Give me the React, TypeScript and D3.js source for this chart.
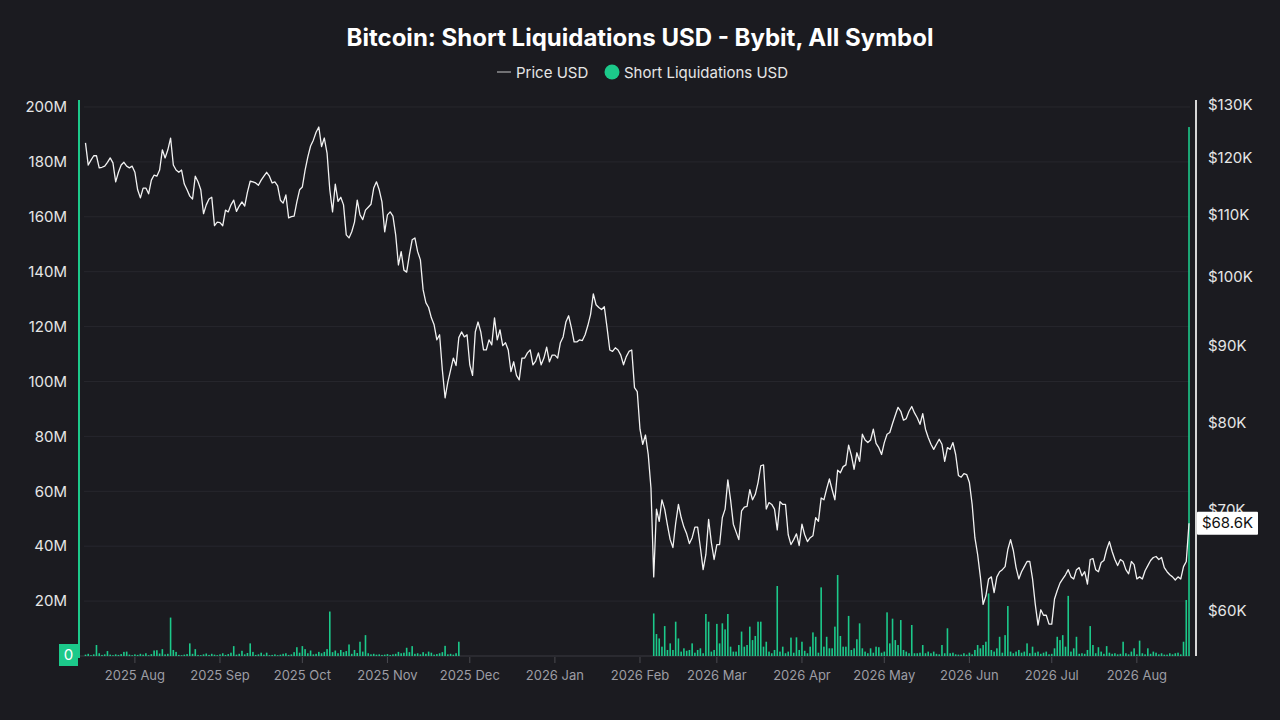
import * as d3 from "d3";

// daily closes in $K, from 2025-07-14
const PRICE_K = [
  122.7, 118.6, 119.5, 120.3, 120.3, 118.1, 118.2, 118.4, 119.1, 119.9,
  119.0, 115.6, 117.3, 118.6, 119.1, 118.4, 118.1, 118.4, 117.3, 114.2,
  112.8, 114.5, 114.5, 113.5, 115.9, 116.8, 116.6, 117.7, 121.4, 119.9,
  121.4, 123.6, 118.6, 117.7, 117.3, 117.7, 115.2, 114.2, 113.1, 112.6,
  116.6, 115.6, 114.2, 110.1, 111.6, 112.6, 112.9, 108.1, 108.7, 108.6,
  108.1, 110.7, 110.4, 111.6, 112.4, 110.5, 111.4, 112.1, 111.4, 113.8,
  115.7, 115.6, 115.4, 115.0, 115.9, 116.6, 117.3, 116.6, 115.4, 115.6,
  114.9, 112.4, 111.9, 113.3, 109.4, 109.6, 109.7, 112.1, 114.2, 114.7,
  117.7, 120.1, 122.1, 123.2, 124.7, 125.7, 122.0, 123.6, 120.8, 114.2,
  110.4, 115.2, 112.2, 112.9, 111.6, 106.6, 106.1, 107.1, 108.7, 112.4,
  109.9, 109.1, 110.7, 111.2, 111.7, 114.5, 115.6, 114.2, 112.1, 107.1,
  109.9, 110.4, 109.7, 106.6, 101.8, 103.9, 101.0, 100.7, 103.4, 105.8,
  106.1, 103.9, 102.6, 98.0, 96.1, 95.4, 93.9, 92.9, 90.8, 91.5,
  86.7, 83.1, 85.1, 86.7, 88.3, 87.3, 91.1, 91.9, 91.2, 91.5,
  87.4, 86.0, 91.9, 93.3, 91.9, 89.4, 89.4, 90.8, 90.1, 93.9,
  90.8, 92.2, 90.0, 90.4, 89.4, 86.5, 87.8, 86.0, 85.4, 88.3,
  88.3, 89.0, 89.4, 87.4, 87.9, 89.0, 87.4, 88.3, 89.8, 87.8,
  88.7, 88.7, 88.3, 90.4, 91.2, 93.3, 94.2, 92.5, 90.5, 90.5,
  90.8, 90.7, 91.5, 92.8, 94.4, 97.4, 95.8, 95.4, 95.1, 95.5,
  92.5, 89.4, 89.2, 89.7, 89.4, 88.7, 87.4, 88.5, 89.2, 89.4,
  84.4, 83.9, 79.2, 77.4, 78.5, 76.2, 72.4, 63.2, 70.1, 68.8,
  71.1, 70.1, 68.4, 66.9, 66.1, 68.6, 70.6, 69.2, 68.2, 67.5,
  66.5, 67.1, 68.2, 68.2, 66.1, 63.9, 65.4, 69.0, 66.6, 64.9,
  66.4, 66.4, 69.2, 70.1, 73.3, 71.1, 68.5, 67.7, 66.9, 69.9,
  70.3, 70.4, 72.2, 71.1, 71.7, 73.0, 74.9, 75.0, 70.1, 70.8,
  70.6, 70.1, 67.9, 70.9, 70.6, 70.6, 67.4, 66.4, 66.9, 67.5,
  66.3, 68.5, 67.4, 66.7, 67.1, 67.3, 69.2, 68.8, 71.3, 71.1,
  72.3, 73.4, 72.2, 71.1, 74.4, 74.1, 74.8, 75.0, 77.3, 76.1,
  74.5, 76.4, 75.4, 78.6, 77.9, 77.6, 77.9, 79.2, 77.5, 77.0,
  76.2, 77.6, 78.6, 78.8, 79.9, 80.9, 81.9, 81.4, 80.3, 80.5,
  81.4, 82.0, 81.2, 80.6, 79.8, 81.1, 79.2, 78.2, 77.4, 76.8,
  77.4, 78.0, 77.4, 75.4, 77.0, 76.8, 77.6, 76.2, 73.8, 73.6,
  74.0, 73.9, 73.0, 70.6, 67.1, 65.4, 63.2, 60.6, 61.4, 63.0,
  63.2, 61.7, 63.2, 63.7, 63.9, 64.2, 65.9, 66.9, 65.8, 64.1,
  63.0, 63.7, 64.2, 64.7, 64.7, 63.0, 60.6, 58.7, 60.1, 59.6,
  59.6, 58.8, 58.8, 61.1, 61.9, 62.6, 63.0, 63.4, 63.9, 63.2,
  63.0, 63.9, 64.1, 63.3, 63.7, 62.5, 64.9, 65.0, 63.9, 63.7,
  64.6, 64.8, 65.9, 66.7, 65.7, 64.9, 64.3, 64.9, 64.7, 63.9,
  63.5, 64.7, 64.4, 63.0, 63.2, 63.0, 63.8, 64.3, 64.8, 65.1,
  65.2, 64.9, 65.1, 64.1, 63.7, 63.4, 63.2, 62.9, 63.2, 63.0,
  64.2, 64.7, 68.6,
];

// daily short liquidations in $M, same days (0 = no data)
const SHORT_LIQ_M = [
  0.5, 0.8, 0.3, 0.6, 4.0, 1.0, 0.4, 0.6, 1.8, 0.5,
  0.3, 0.6, 0.4, 0.7, 1.5, 1.6, 0.5, 0.3, 0.6, 0.4,
  0.8, 0.5, 1.0, 0.3, 0.7, 2.0, 2.1, 0.9, 2.5, 0.6,
  0.8, 14.0, 2.2, 1.5, 0.4, 0.3, 0.5, 0.7, 4.6, 0.8,
  2.5, 0.4, 0.3, 0.6, 0.9, 0.4, 0.8, 0.5, 0.3, 0.6,
  1.0, 0.4, 0.7, 1.2, 3.6, 0.5, 0.8, 1.9, 0.6, 1.1,
  4.6, 1.5, 0.4, 0.6, 1.2, 0.5, 1.2, 0.3, 0.4, 0.6,
  0.3, 0.5, 0.8, 1.0, 0.4, 0.6, 1.4, 3.2, 1.2, 3.6,
  2.5, 1.0, 2.0, 0.6, 0.8, 1.5, 1.0, 1.5, 2.5, 16.2,
  1.4, 2.0, 1.0, 2.2, 1.4, 1.8, 4.2, 0.8, 2.2, 1.1,
  5.2, 1.6, 7.6, 1.0, 0.6, 0.8, 0.5, 0.6, 0.4, 0.5,
  0.7, 0.4, 0.6, 0.8, 1.5, 1.0, 1.2, 3.0, 1.4, 3.6,
  0.8, 1.0, 0.6, 1.4, 0.8, 1.6, 1.2, 0.5, 0.7, 1.0,
  1.4, 3.7, 0.6, 0.8, 0.5, 1.0, 5.2, 0, 0, 0,
  0, 0, 0, 0, 0, 0, 0, 0, 0, 0,
  0, 0, 0, 0, 0, 0, 0, 0, 0, 0,
  0, 0, 0, 0, 0, 0, 0, 0, 0, 0,
  0, 0, 0, 0, 0, 0, 0, 0, 0, 0,
  0, 0, 0, 0, 0, 0, 0, 0, 0, 0,
  0, 0, 0, 0, 0, 0, 0, 0, 0, 0,
  0, 0, 0, 0, 0, 0, 0, 15.5, 8.0, 6.4,
  3.4, 10.9, 2.2, 4.6, 2.2, 12.5, 6.4, 1.6, 2.8, 1.9,
  2.2, 4.6, 1.2, 2.2, 2.8, 1.0, 15.3, 12.5, 1.6, 2.2,
  11.7, 4.6, 11.9, 9.7, 15.3, 3.4, 1.6, 1.6, 4.0, 8.9,
  3.4, 4.0, 10.7, 5.8, 7.3, 12.5, 12.5, 3.4, 5.2, 1.6,
  1.0, 2.2, 25.5, 1.6, 3.4, 1.0, 1.6, 6.7, 1.2, 6.8,
  2.2, 5.2, 1.9, 1.0, 3.4, 8.6, 7.0, 1.2, 25.0, 3.4,
  7.0, 2.8, 2.8, 10.7, 29.5, 7.3, 3.4, 3.4, 14.6, 2.2,
  2.8, 6.1, 11.9, 2.8, 1.6, 1.0, 2.8, 1.2, 3.4, 3.2,
  1.2, 1.6, 15.9, 4.6, 13.6, 5.8, 4.0, 13.1, 2.2, 1.6,
  1.0, 11.3, 1.0, 1.0, 1.2, 4.0, 1.0, 1.6, 1.0, 1.6,
  0.8, 0.6, 4.0, 1.0, 10.1, 1.0, 1.2, 0.6, 0.5, 0.5,
  1.0, 0.5, 1.2, 0.6, 2.2, 4.0, 2.8, 4.0, 5.2, 22.8,
  2.2, 1.6, 2.8, 7.0, 1.2, 7.6, 18.2, 1.6, 1.0, 1.6,
  2.2, 1.2, 1.6, 4.6, 1.0, 3.4, 1.2, 1.6, 0.8, 1.2,
  1.6, 0.6, 0.8, 2.8, 7.0, 5.8, 7.6, 3.4, 21.9, 1.6,
  2.8, 7.0, 0.8, 1.0, 0.8, 2.2, 10.9, 4.0, 1.0, 3.2,
  1.6, 0.8, 3.6, 1.2, 0.8, 1.0, 0.6, 0.8, 5.2, 1.0,
  0.6, 1.6, 2.8, 0.6, 5.6, 1.0, 0.6, 2.8, 0.8, 1.6,
  1.2, 0.6, 1.0, 0.5, 0.5, 1.0, 0.6, 1.0, 1.2, 0.6,
  5.2, 20.4, 192.7,
];

const START_DATE = new Date(2025, 6, 14);
const LEFT_TICKS = [0, 20, 40, 60, 80, 100, 120, 140, 160, 180, 200];
const RIGHT_TICKS = [60, 70, 80, 90, 100, 110, 120, 130];
const MONTH_TICKS = d3.timeMonth.range(new Date(2025, 7, 1), new Date(2026, 7, 2));
const TITLE = "Bitcoin: Short Liquidations USD - Bybit, All Symbol";

const BG = "#1b1b20";
const GREEN = "#1cc98a";
const FONT = "Inter, 'Noto Sans', sans-serif";

export default function App() {
  const width = 1280;
  const height = 720;
  const left = 80;
  const right = 1194.5;
  const top = 100;
  const bottom = 656;

  const dates = PRICE_K.map((_, i) => d3.timeDay.offset(START_DATE, i));

  const x = d3
    .scaleTime()
    .domain([new Date(2025, 6, 12), new Date(2026, 7, 22)])
    .range([left, right]);
  const yLiq = d3.scaleLinear().domain([0, 202.55]).range([bottom, top]);
  const yPrice = d3.scaleLog().domain([56.0, 131.0]).range([bottom, top]);

  const pricePath =
    d3
      .line<number>()
      .x((_, i) => x(dates[i]))
      .y((d) => yPrice(d))(PRICE_K) || "";

  const fmtMonth = d3.timeFormat("%Y %b");
  const lastPrice = PRICE_K[PRICE_K.length - 1];
  const lastY = yPrice(lastPrice);

  return (
    <svg
      width={width}
      height={height}
      style={{ position: "absolute", left: 0, top: 0, display: "block" }}
      fontFamily={FONT}
    >
      <rect width={width} height={height} fill={BG} />

      {/* title + legend */}
      <text x={640} y={46} textAnchor="middle" fill="#ffffff" fontSize={24} fontWeight={700}>
        {TITLE}
      </text>
      <line x1={497} x2={511} y1={72} y2={72} stroke="#c8c8c8" strokeWidth={1} />
      <text x={516} y={77.5} fill="#e6e6e6" fontSize={15}>
        Price USD
      </text>
      <circle cx={612} cy={72} r={7.5} fill={GREEN} />
      <text x={624} y={77.5} fill="#e6e6e6" fontSize={15}>
        Short Liquidations USD
      </text>

      {/* grid */}
      {LEFT_TICKS.filter((t) => t > 0).map((t) => (
        <line key={t} x1={left + 4} x2={1190} y1={yLiq(t)} y2={yLiq(t)} stroke="#27272d" strokeWidth={1} />
      ))}
      <line x1={left} x2={1190} y1={bottom} y2={bottom} stroke="#3a3a40" strokeWidth={1} />

      {/* x axis */}
      {MONTH_TICKS.map((m) => (
        <g key={m.getTime()} transform={`translate(${x(m)},0)`}>
          <line y1={bottom + 1} y2={bottom + 7} stroke="#4a4a50" />
          <text y={680} textAnchor="middle" fill="#9d9da4" fontSize={13}>
            {fmtMonth(m)}
          </text>
        </g>
      ))}

      {/* liquidation bars */}
      {SHORT_LIQ_M.map((v, i) =>
        v > 0 ? (
          <rect
            key={i}
            x={x(dates[i]) - 0.8}
            y={yLiq(v)}
            width={1.6}
            height={bottom - yLiq(v)}
            fill={GREEN}
          />
        ) : null
      )}

      {/* price */}
      <path d={pricePath} fill="none" stroke="#f2f2f2" strokeWidth={1.3} strokeLinejoin="round" />

      {/* left axis */}
      <line x1={79} x2={79} y1={top} y2={bottom + 2} stroke={GREEN} strokeWidth={2} />
      {LEFT_TICKS.filter((t) => t > 0).map((t) => (
        <text key={t} x={67} y={yLiq(t)} dy="0.35em" textAnchor="end" fill="#e6e6e6" fontSize={15}>
          {`${t}M`}
        </text>
      ))}
      <rect x={59} y={644} width={19} height={22} fill={GREEN} />
      <text x={68.5} y={655} dy="0.36em" textAnchor="middle" fill="#ffffff" fontSize={15}>
        0
      </text>

      {/* right axis; the last-price tag sits over the $70K tick as in the source */}
      <line x1={1196} x2={1196} y1={top} y2={bottom} stroke="#d6d6d6" strokeWidth={2} />
      {RIGHT_TICKS.map((t) => (
        <text key={t} x={1208} y={yPrice(t)} dy="0.35em" fill="#e6e6e6" fontSize={15}>
          {`$${t}K`}
        </text>
      ))}
      <rect x={1197} y={lastY - 11.5} width={61} height={23} fill="#ffffff" rx={1} />
      <text x={1227.5} y={lastY} dy="0.35em" textAnchor="middle" fill="#111111" fontSize={15}>
        {`$${lastPrice.toFixed(1)}K`}
      </text>
    </svg>
  );
}
